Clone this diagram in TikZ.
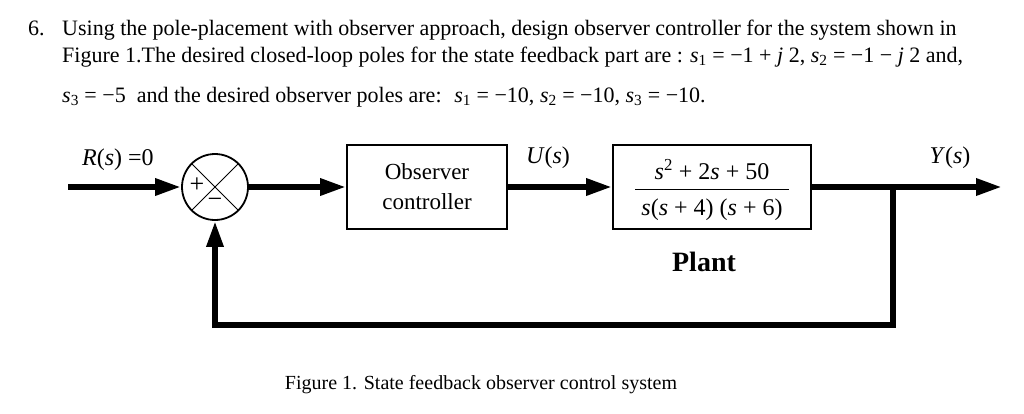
\documentclass[tikz,border=0pt]{standalone}
\usepackage{fontspec}
\setmainfont{Liberation Serif}
\usetikzlibrary{arrows.meta}
\newcommand{\vi}[1]{\textit{#1}}
\newcommand{\vs}[1]{\textit{s}\textsubscript{#1}}
\begin{document}
\begin{tikzpicture}[x=1pt,y=-1pt,
  sig/.style={line width=6pt,-{Triangle[length=26pt,width=16pt]}},
  fb/.style={line width=6pt},
  blk/.style={draw,line width=1.8pt,minimum width=160pt,minimum height=84pt},
  txt/.style={font=\fontsize{22}{24}\selectfont,anchor=base west,inner sep=0}]
\useasboundingbox (0,0) rectangle (1024,413);
\node[txt] (n6) at (28,35) {6.};
\node[txt] (l1) at (62,35) {Using the pole-placement with observer approach, design observer controller for the system shown in};
\node[txt] (l2) at (62,62) {Figure 1.The desired closed-loop poles for the state feedback part are : \vs{1} = −1 + \vi{j} 2, \vs{2} = −1 − \vi{j} 2 and,};
\node[txt] (l3) at (62,102) {\vs{3} = −5 \ and the desired observer poles are: \ \vs{1} = −10, \vs{2} = −10, \vs{3} = −10.};
\node[circle,draw,line width=1.8pt,minimum size=66pt,inner sep=0] (sum) at (215,187) {};
\draw[line width=0.8pt] (sum.north west)--(sum.south east) (sum.north east)--(sum.south west);
\node[font=\fontsize{26}{26}\selectfont] (plus) at (197,185) {+};
\node[font=\fontsize{26}{26}\selectfont] (minus) at (215,203) {−};
\node[blk] (obs) at (427,187) {};
\node[font=\fontsize{23}{30}\selectfont,align=center] (obst) at (427,187) {Observer\\controller};
\node[blk,minimum width=198pt] (pl) at (712,187) {};
\node[font=\fontsize{24}{26}\selectfont,inner sep=0] (num) at (712,170) {\vi{s}\textsuperscript{2} + 2\vi{s} + 50};
\node[font=\fontsize{24}{26}\selectfont,inner sep=0] (den) at (712,210) {\vi{s}(\vi{s} + 4) (\vi{s} + 6)};
\draw[line width=1pt] (635,189)--(789,189);
\node[font=\fontsize{28}{28}\selectfont\bfseries] (plant) at (704,262) {Plant};
\coordinate (in) at (68,187);
\coordinate (out) at (1002,187);
\coordinate (br) at (893,187);
\coordinate (c1) at (893,325);
\coordinate (c2) at (215,325);
\draw[sig] (in)--(sum.west);
\draw[sig] (sum.east)--(obs.west);
\draw[sig] (obs.east)--(pl.west);
\draw[sig] (pl.east)--(out);
\draw[fb] (br)--(c1)--(c2);
\draw[sig] ([yshift=-3pt]c2)--(sum.south);
\node[font=\fontsize{24}{24}\selectfont] (r) at (118,160) {\vi{R}(\vi{s}) =0};
\node[font=\fontsize{24}{24}\selectfont] (u) at (548,158) {\vi{U}(\vi{s})};
\node[font=\fontsize{24}{24}\selectfont] (y) at (950,158) {\vi{Y}(\vi{s})};
\node[font=\fontsize{20}{22}\selectfont] (cap) at (481,385) {Figure 1. State feedback observer control system};
\end{tikzpicture}
\end{document}
